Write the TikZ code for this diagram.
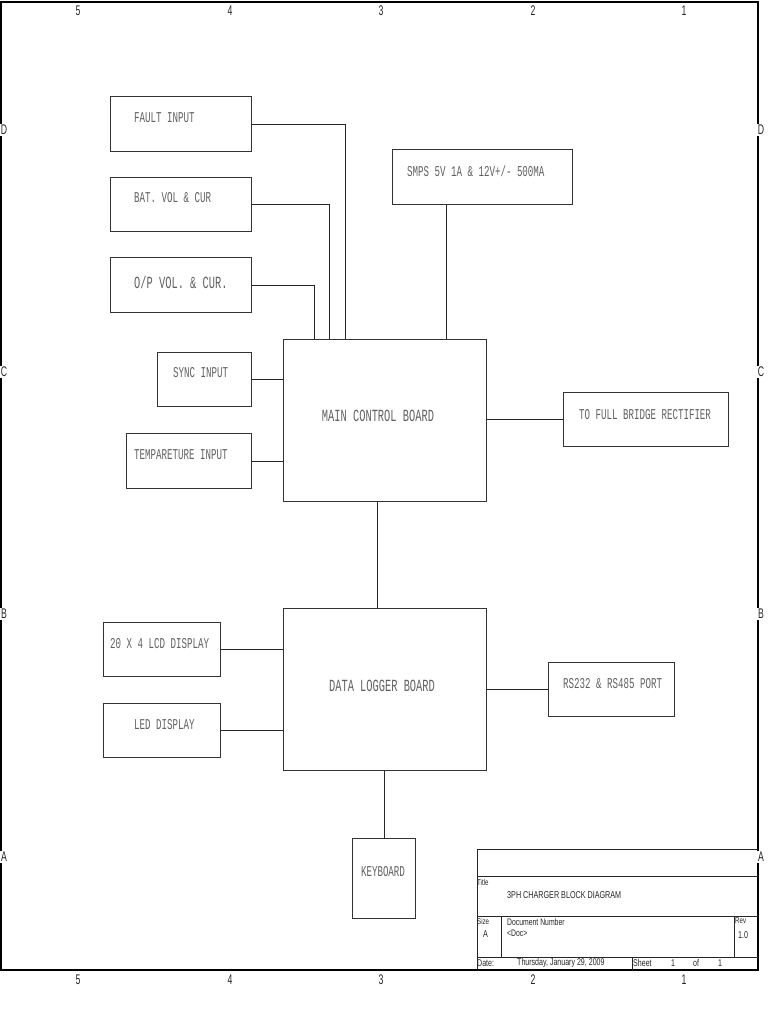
\documentclass[tikz,border=0pt]{standalone}
\usepackage{fontspec}
\setmainfont{Liberation Sans}
\newfontfamily\boxfont[FakeStretch=0.61]{Liberation Mono}
\newfontfamily\tbfont[FakeStretch=0.72]{Liberation Sans}
\newfontfamily\zonefont[FakeStretch=0.62]{Liberation Sans}
\tikzset{
  blk/.style={draw=black!80, line width=1.2pt, inner sep=0pt, anchor=north west},
  btxt/.style={font=\boxfont\fontsize{15}{15}\selectfont, text=black!62, anchor=west, inner sep=0pt},
  bigtxt/.style={font=\boxfont\fontsize{17}{17}\selectfont, text=black!62, anchor=center, inner sep=0pt},
  wire/.style={draw=black!85, line width=0.9pt},
  frame/.style={draw=black, line width=2pt},
  tbline/.style={draw=black!85, line width=0.9pt},
  zone/.style={font=\zonefont\fontsize{14}{14}\selectfont, inner sep=1pt, fill=white, text=black!85},
  tbs/.style={font=\tbfont\fontsize{8.5}{8.5}\selectfont, anchor=west, inner sep=0pt, text=black!85},
  tbn/.style={font=\tbfont\fontsize{9.5}{9.5}\selectfont, anchor=west, inner sep=0pt, text=black!85},
  tbd/.style={font=\tbfont\fontsize{9.8}{9.8}\selectfont, anchor=west, inner sep=0pt, text=black!85},
  tbm/.style={font=\tbfont\fontsize{10}{10}\selectfont, anchor=west, inner sep=0pt, text=black!85},
  tbl/.style={font=\tbfont\fontsize{10}{10}\selectfont, anchor=west, inner sep=0pt, text=black!85}
}
\begin{document}
\begin{tikzpicture}[x=1pt,y=-1pt]
\useasboundingbox[fill=white] (0,0) rectangle (768,1024);

% frame
\draw[frame] (0,2) -- (759,2);
\draw[frame] (0,970) -- (759,970);
\draw[frame] (1,2) -- (1,970);
\draw[frame] (758,2) -- (758,970);

% zone labels
\foreach \n/\x in {5/78,4/230,3/381,2/533,1/684}{
  \node[zone] (zt\n) at (\x,11) {\n};
  \node[zone] (zb\n) at (\x,980) {\n};
}
\foreach \l/\y in {D/130,C/372,B/614,A/857}{
  \node[zone] (zl\l) at (4,\y) {\l};
  \node[zone] (zr\l) at (761,\y) {\l};
}

% blocks
\node[blk, minimum width=141pt, minimum height=55pt] (fault) at (110,96) {};
\node[btxt] (faultt) at (134,118) {FAULT INPUT};
\node[blk, minimum width=141pt, minimum height=54pt] (bat) at (110,177) {};
\node[btxt] (batt) at (134,198) {BAT. VOL \& CUR};
\node[blk, minimum width=141pt, minimum height=55pt] (op) at (110,257) {};
\node[btxt, font=\boxfont\fontsize{17}{17}\selectfont] (opt) at (134,282) {O/P VOL. \& CUR.};
\node[blk, minimum width=94pt, minimum height=54pt] (sync) at (157,352) {};
\node[btxt] (synct) at (173,373) {SYNC INPUT};
\node[blk, minimum width=125pt, minimum height=55pt] (temp) at (126,433) {};
\node[btxt] (tempt) at (134,455) {TEMPARETURE INPUT};
\node[blk, minimum width=203pt, minimum height=162pt] (main) at (283,339) {};
\node[bigtxt] (maint) at (378,416) {MAIN CONTROL BOARD};
\node[blk, minimum width=180pt, minimum height=55pt] (smps) at (392,149) {};
\node[btxt] (smpst) at (407,171) {SMPS 5V 1A \& 12V+/- 500MA};
\node[blk, minimum width=165pt, minimum height=54pt] (rect) at (563,392) {};
\node[btxt] (rectt) at (579,415) {TO FULL BRIDGE RECTIFIER};
\node[blk, minimum width=117pt, minimum height=54pt] (lcd) at (103,622) {};
\node[btxt] (lcdt) at (110,644) {20 X 4 LCD DISPLAY};
\node[blk, minimum width=117pt, minimum height=54pt] (led) at (103,703) {};
\node[btxt] (ledt) at (134,725) {LED DISPLAY};
\node[blk, minimum width=203pt, minimum height=162pt] (dl) at (283,608) {};
\node[bigtxt] (dlt) at (382,686) {DATA LOGGER BOARD};
\node[blk, minimum width=126pt, minimum height=54pt] (rs) at (548,662) {};
\node[btxt] (rst) at (563,684) {RS232 \& RS485 PORT};
\node[blk, minimum width=63pt, minimum height=80pt] (kb) at (352,838) {};
\node[btxt, anchor=center] (kbt) at (383,872) {KEYBOARD};

% connector guide coordinates
\coordinate (cf) at (345,0);
\coordinate (cb) at (329,0);
\coordinate (co) at (314,0);
\coordinate (cs) at (446,0);
\coordinate (cm) at (377,0);

% connectors
\draw[wire] (fault.east) -| (cf |- main.north);
\draw[wire] (bat.east) -| (cb |- main.north);
\draw[wire] (op.east) -| (co |- main.north);
\draw[wire] (cs |- smps.south) -- (cs |- main.north);
\draw[wire] (sync.east) -- (sync.east -| main.west);
\draw[wire] (temp.east) -- (temp.east -| main.west);
\draw[wire] (main.east |- rect.west) -- (rect.west);
\draw[wire] (cm |- main.south) -- (cm |- dl.north);
\draw[wire] (lcd.east) -- (lcd.east -| dl.west);
\draw[wire] (led.east) -- (led.east -| dl.west);
\draw[wire] (dl.east |- rs.west) -- (rs.west);
\draw[wire] (kb.north) -- (kb.north |- dl.south);

% title block
\draw[tbline] (477,970) -- (477,849) -- (758,849);
\draw[tbline] (477,876) -- (758,876);
\draw[tbline] (477,916) -- (758,916);
\draw[tbline] (477,957) -- (758,957);
\draw[tbline] (501,916) -- (501,957);
\draw[tbline] (734,916) -- (734,957);
\draw[tbline] (632,957) -- (632,970);

\node[tbs] (ttitle) at (477,882) {Title};
\node[tbl] (tname) at (507,895) {3PH CHARGER BLOCK DIAGRAM};
\node[tbs] (tsize) at (477,921) {Size};
\node[tbm] (tsizev) at (483,934) {A};
\node[tbn] (tdoc) at (507,922) {Document Number};
\node[tbn] (tdocv) at (507,933) {<Doc>};
\node[tbs] (trev) at (735,921) {Rev};
\node[tbm] (trevv) at (738,935) {1.0};
\node[tbd] (tdate) at (477,963) {Date:};
\node[tbd] (tdatev) at (517,963) {Thursday, January 29, 2009};
\node[tbd] (tsheet) at (633,963) {Sheet};
\node[tbd] (tsh1) at (671,963) {1};
\node[tbd] (tof) at (693,963) {of};
\node[tbd] (tsh2) at (718,963) {1};
\end{tikzpicture}
\end{document}
